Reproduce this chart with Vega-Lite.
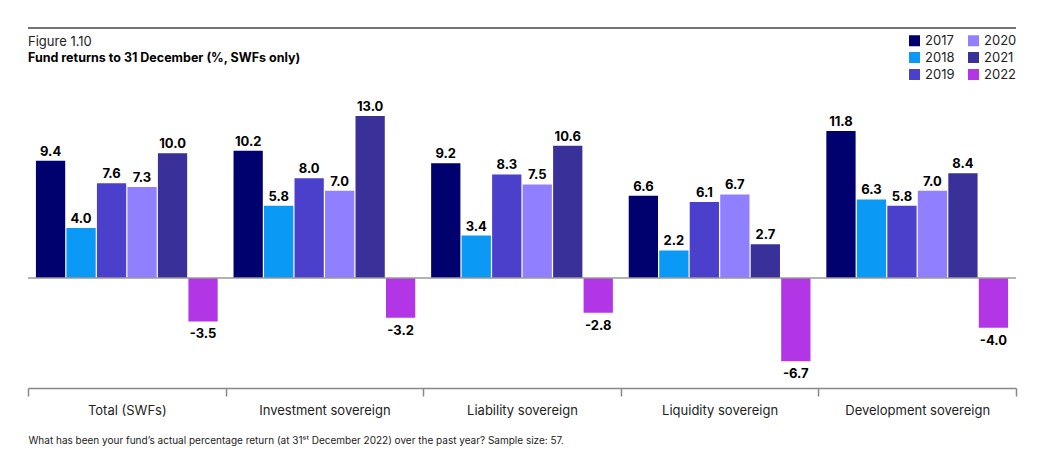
{
  "$schema": "https://vega.github.io/schema/vega-lite/v6.json",
  "width": 988,
  "height": 360,
  "autosize": {"type": "none"},
  "padding": {"left": 28, "top": 28, "right": 24, "bottom": 85},
  "background": "white",
  "config": {
    "font": "Inter",
    "view": {"stroke": null},
    "text": {"font": "Inter"}
  },
  "title": {
    "text": "Figure 1.10",
    "subtitle": "Fund returns to 31 December (%, SWFs only)",
    "anchor": "start",
    "frame": "group",
    "orient": "top",
    "offset": -37,
    "font": "Inter",
    "fontSize": 13,
    "fontWeight": "normal",
    "color": "#222222",
    "subtitleFont": "Inter",
    "subtitleFontSize": 12.5,
    "subtitleFontWeight": "bold",
    "subtitleColor": "#000000",
    "subtitlePadding": 3
  },
  "layer": [
    {
      "data": {
        "values": [
          {"group": "Total (SWFs)", "year": "2017", "value": 9.4},
          {"group": "Total (SWFs)", "year": "2018", "value": 4.0},
          {"group": "Total (SWFs)", "year": "2019", "value": 7.6},
          {"group": "Total (SWFs)", "year": "2020", "value": 7.3},
          {"group": "Total (SWFs)", "year": "2021", "value": 10.0},
          {"group": "Total (SWFs)", "year": "2022", "value": -3.5},
          {"group": "Investment sovereign", "year": "2017", "value": 10.2},
          {"group": "Investment sovereign", "year": "2018", "value": 5.8},
          {"group": "Investment sovereign", "year": "2019", "value": 8.0},
          {"group": "Investment sovereign", "year": "2020", "value": 7.0},
          {"group": "Investment sovereign", "year": "2021", "value": 13.0},
          {"group": "Investment sovereign", "year": "2022", "value": -3.2},
          {"group": "Liability sovereign", "year": "2017", "value": 9.2},
          {"group": "Liability sovereign", "year": "2018", "value": 3.4},
          {"group": "Liability sovereign", "year": "2019", "value": 8.3},
          {"group": "Liability sovereign", "year": "2020", "value": 7.5},
          {"group": "Liability sovereign", "year": "2021", "value": 10.6},
          {"group": "Liability sovereign", "year": "2022", "value": -2.8},
          {"group": "Liquidity sovereign", "year": "2017", "value": 6.6},
          {"group": "Liquidity sovereign", "year": "2018", "value": 2.2},
          {"group": "Liquidity sovereign", "year": "2019", "value": 6.1},
          {"group": "Liquidity sovereign", "year": "2020", "value": 6.7},
          {"group": "Liquidity sovereign", "year": "2021", "value": 2.7},
          {"group": "Liquidity sovereign", "year": "2022", "value": -6.7},
          {"group": "Development sovereign", "year": "2017", "value": 11.8},
          {"group": "Development sovereign", "year": "2018", "value": 6.3},
          {"group": "Development sovereign", "year": "2019", "value": 5.8},
          {"group": "Development sovereign", "year": "2020", "value": 7.0},
          {"group": "Development sovereign", "year": "2021", "value": 8.4},
          {"group": "Development sovereign", "year": "2022", "value": -4.0}
        ]
      },
      "encoding": {
        "x": {
          "field": "group",
          "type": "nominal",
          "sort": null,
          "scale": {"paddingInner": 0, "paddingOuter": 0},
          "axis": {
            "title": "What has been your fund’s actual percentage return (at 31ˢᵗ December 2022) over the past year? Sample size: 57.",
            "titleAnchor": "start",
            "titleFont": "Inter",
            "titleFontSize": 10,
            "titleFontWeight": "normal",
            "titleColor": "#222222",
            "titlePadding": 18,
            "labelAngle": 0,
            "labelFont": "Inter",
            "labelFontSize": 13,
            "labelColor": "#222222",
            "labelPadding": 8,
            "tickBand": "extent",
            "tickSize": 8,
            "tickColor": "#888888",
            "tickWidth": 1.5,
            "domainColor": "#888888",
            "domainWidth": 1.5
          }
        },
        "xOffset": {
          "field": "year",
          "type": "nominal",
          "sort": ["2017", "2018", "2019", "2020", "2021", "2022"],
          "scale": {"paddingInner": 0.04, "paddingOuter": 0.26}
        },
        "y": {
          "field": "value",
          "type": "quantitative",
          "scale": {"domain": [-8.84, 20.06], "nice": false, "zero": false},
          "axis": null
        }
      },
      "layer": [
        {
          "mark": {"type": "bar"},
          "encoding": {
            "color": {
              "field": "year",
              "type": "nominal",
              "scale": {
                "domain": ["2017", "2018", "2019", "2020", "2021", "2022"],
                "range": ["#00006e", "#0a99f5", "#4a40cc", "#9080ff", "#3a309a", "#b336e6"]
              },
              "legend": {
                "title": null,
                "orient": "none",
                "legendX": 880,
                "legendY": 6,
                "columns": 2,
                "columnPadding": 12,
                "rowPadding": 3,
                "symbolType": "square",
                "symbolSize": 121,
                "symbolStrokeWidth": 0,
                "labelFont": "Inter",
                "labelFontSize": 13,
                "labelColor": "#222222",
                "labelOffset": 4,
                "padding": 0
              }
            }
          }
        },
        {
          "transform": [{"filter": "datum.value >= 0"}],
          "mark": {"type": "text", "baseline": "alphabetic", "dy": -5, "fontSize": 13, "fontWeight": "bold", "color": "#000000"},
          "encoding": {"text": {"field": "value", "type": "quantitative", "format": ".1f"}}
        },
        {
          "transform": [{"filter": "datum.value < 0"}],
          "mark": {"type": "text", "baseline": "alphabetic", "dy": 17, "fontSize": 13, "fontWeight": "bold", "color": "#000000", "text": {"expr": "'-' + format(-datum.value, '.1f')"}}
        }
      ]
    },
    {
      "data": {"values": [{}]},
      "mark": {"type": "rule", "color": "#999999", "strokeWidth": 1.5},
      "encoding": {"y": {"datum": 0, "type": "quantitative"}}
    },
    {
      "data": {"values": [{}]},
      "mark": {"type": "rule", "color": "#444444", "strokeWidth": 1.5},
      "encoding": {"y": {"datum": 20.06, "type": "quantitative"}}
    }
  ]
}
